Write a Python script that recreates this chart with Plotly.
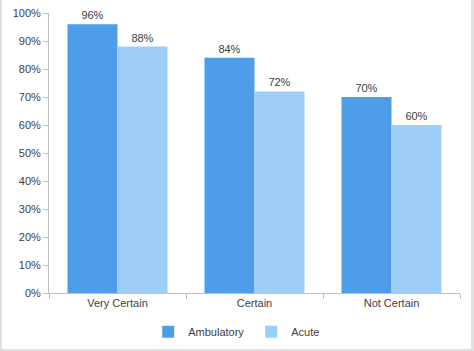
import plotly.graph_objects as go

categories = ["Very Certain", "Certain", "Not Certain"]
ambulatory = [0.96, 0.84, 0.70]
acute = [0.88, 0.72, 0.60]
tick_vals = [i / 10 for i in range(11)]
tick_text = [f"{i*10}%" for i in range(11)]

font = dict(family="Liberation Sans, Arial, sans-serif", size=11, color="#404040")

fig = go.Figure()
fig.add_trace(go.Bar(x=categories, y=ambulatory, name="Ambulatory",
                     marker=dict(color="#4d9de8", line=dict(width=0)),
                     text=[f"{round(v*100)}%" for v in ambulatory],
                     textposition="outside", cliponaxis=False,
                     textfont=font))
fig.add_trace(go.Bar(x=categories, y=acute, name="Acute",
                     marker=dict(color="#9ecdf7", line=dict(width=0)),
                     text=[f"{round(v*100)}%" for v in acute],
                     textposition="outside", cliponaxis=False,
                     textfont=font))

fig.update_layout(
    width=474, height=351,
    margin=dict(l=49, r=14, t=13, b=58, autoexpand=False),
    paper_bgcolor="#dde1e1",
    plot_bgcolor="white",
    barmode="group",
    bargap=0.27, bargroupgap=0,
    font=font,
    showlegend=True,
    legend=dict(orientation="h", xref="container", yref="container",
                x=0.53, xanchor="center", y=0.055, yanchor="middle",
                font=font, entrywidth=58, bgcolor="rgba(0,0,0,0)"),
    shapes=[dict(type="rect", xref="paper", yref="paper",
                 x0=-47/411, x1=(471-49)/411, y0=-(349-293)/280, y1=1 + 13/280,
                 fillcolor="white", line=dict(width=0), layer="below")],
)
fig.update_xaxes(showline=True, linecolor="#bfbfbf", linewidth=1,
                 ticks="outside", tickson="boundaries", ticklen=5, tickcolor="#bfbfbf",
                 showgrid=False, tickfont=font)
fig.update_yaxes(range=[0, 1], tickvals=tick_vals, ticktext=tick_text,
                 showline=True, linecolor="#bfbfbf", linewidth=1,
                 ticks="outside", ticklen=5, tickcolor="#bfbfbf",
                 showgrid=False, zeroline=False, tickfont=font)

fig.write_html("out.html")
